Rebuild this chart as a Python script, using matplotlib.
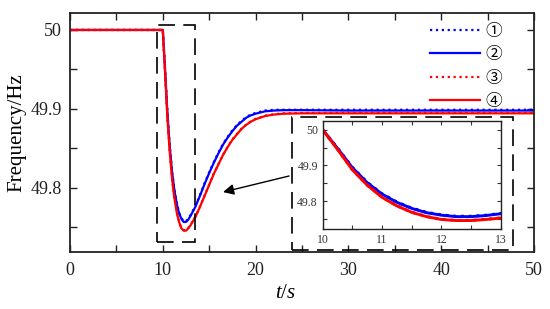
import matplotlib
matplotlib.use("Agg")
import matplotlib.pyplot as plt
from matplotlib.patches import Rectangle

plt.rcParams['font.family'] = ['Liberation Serif', 'DejaVu Serif', 'Noto Sans CJK SC']
plt.rcParams['mathtext.fontset'] = 'custom'
plt.rcParams['mathtext.it'] = 'Liberation Serif:italic'
plt.rcParams['mathtext.rm'] = 'Liberation Serif'

# ---- data ----
t = [0, 10, 10.25, 10.5, 10.75, 11, 11.25, 11.5, 11.75, 12, 12.25, 12.5, 12.75, 13,
     13.5, 14, 14.5, 15, 15.5, 16, 16.5, 17, 17.5, 18, 18.5, 19, 19.5, 20, 21, 22,
     23, 25, 30, 40, 50]

f2 = [50, 50, 49.948, 49.894, 49.852, 49.820, 49.797, 49.780, 49.768, 49.761, 49.757,
      49.757, 49.760, 49.765, 49.776, 49.790, 49.805, 49.819, 49.832, 49.844, 49.855,
      49.864, 49.872, 49.879, 49.884, 49.889, 49.892, 49.894, 49.897, 49.898, 49.8985,
      49.8985, 49.898, 49.898, 49.898]
f1 = [50, 50, 49.949, 49.895, 49.853, 49.821, 49.798, 49.781, 49.769, 49.762, 49.758,
      49.758, 49.761, 49.766, 49.777, 49.791, 49.806, 49.820, 49.833, 49.845, 49.856,
      49.865, 49.873, 49.880, 49.885, 49.890, 49.893, 49.895, 49.898, 49.899, 49.899,
      49.899, 49.899, 49.899, 49.899]
f4 = [50, 50, 49.945, 49.888, 49.845, 49.811, 49.787, 49.769, 49.757, 49.749, 49.746,
      49.746, 49.749, 49.753, 49.763, 49.776, 49.790, 49.804, 49.818, 49.830, 49.842,
      49.852, 49.861, 49.868, 49.875, 49.880, 49.884, 49.887, 49.891, 49.893, 49.894,
      49.8945, 49.8945, 49.8945, 49.8945]
f3 = [50, 50, 49.9455, 49.8885, 49.8455, 49.8115, 49.7875, 49.7695, 49.7575, 49.7495,
      49.7465, 49.7465, 49.7495, 49.7535, 49.7635, 49.7765, 49.7905, 49.8045, 49.8185,
      49.8305, 49.8425, 49.8525, 49.8615, 49.8685, 49.8755, 49.8805, 49.8845, 49.8875,
      49.8915, 49.8935, 49.8945, 49.895, 49.895, 49.895, 49.895]

labels = ['①', '②', '③', '④']
colors = ['#0000ff', '#0000ff', '#ff0000', '#ff0000']
styles = [':', '-', ':', '-']
series = [f1, f2, f3, f4]

fig = plt.figure(figsize=(5.5, 3.09), dpi=100)
ax = fig.add_axes([0.1273, 0.1845, 0.8436, 0.7735])

for y, c, s, lab in zip(series, colors, styles, labels):
    ax.plot(t, y, color=c, linestyle=s, lw=1.6, label=lab)

ax.set_xlim(0, 50)
ax.set_ylim(49.719, 50.0215)
ax.set_xticks([0, 10, 20, 30, 40, 50])
ax.set_xticks([5, 15, 25, 35, 45], minor=True)
ax.set_yticks([49.8, 49.9, 50])
ax.set_yticklabels(['49.8', '49.9', '50'])
ax.set_yticks([49.75, 49.85, 49.95], minor=True)
ax.tick_params(which='both', direction='in', top=True, right=True, labelsize=13,
               colors='#222222', width=1.0, length=5)
ax.tick_params(axis='x', which='both', pad=7)
ax.tick_params(axis='y', which='both', pad=6)
for sp in ax.spines.values():
    sp.set_linewidth(1.3)
    sp.set_color('#222222')
ax.set_xlabel('$t/s$', fontsize=15)
ax.xaxis.set_label_coords(0.4655, -0.135)
ax.set_ylabel('Frequency/Hz', fontsize=15, labelpad=3)

leg = ax.legend(loc='upper right', bbox_to_anchor=(0.931, 0.955), frameon=False,
                fontsize=12, handlelength=3.0, handletextpad=0.35, labelspacing=0.45,
                borderaxespad=0, borderpad=0)

# dashed rectangles
ax.add_patch(Rectangle((9.4, 49.732), 4.1, 0.274, fill=False, ls=(0, (10, 5)),
                       lw=1.2, ec='black', zorder=5))
ax.add_patch(Rectangle((23.9, 49.722), 23.8, 0.168, fill=False, ls=(0, (10, 5)),
                       lw=1.2, ec='black', zorder=5))
ax.annotate('', xy=(16.2, 49.794), xytext=(23.9, 49.816),
            arrowprops=dict(arrowstyle='-|>', color='black', lw=1.0,
                            mutation_scale=16))

# inset
ins = fig.add_axes([0.5867, 0.2573, 0.3236, 0.3495])
for y, c, s in zip(series, colors, styles):
    ins.plot(t, y, color=c, linestyle=s, lw=2.1)
ins.set_xlim(10, 13)
ins.set_ylim(49.721, 50.023)
ins.set_xticks([10, 11, 12, 13])
ins.set_xticks([10.5, 11.5, 12.5], minor=True)
ins.set_yticks([49.8, 49.9, 50])
ins.set_yticklabels(['49.8', '49.9', '50'])
ins.set_yticks([49.75, 49.85, 49.95], minor=True)
ins.tick_params(which='both', direction='in', top=True, right=True, labelsize=8.5,
                colors='#333333', length=3, width=0.8)
for sp in ins.spines.values():
    sp.set_linewidth(1.0)
    sp.set_color('#222222')

fig.savefig('out.png', dpi=100)
